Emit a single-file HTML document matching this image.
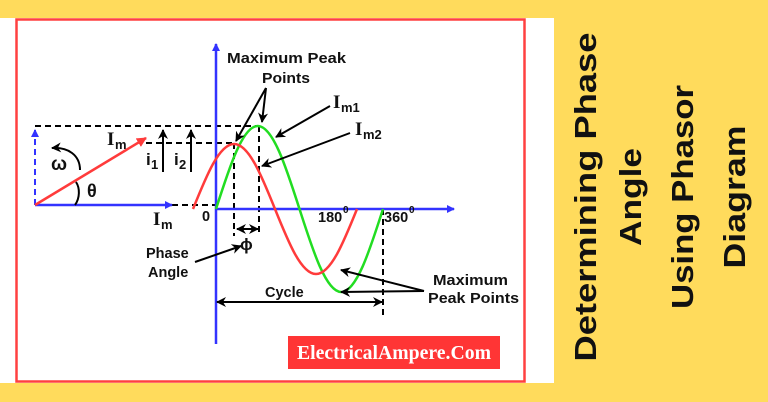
<!DOCTYPE html>
<html><head><meta charset="utf-8"><style>
html,body{margin:0;padding:0;background:#FFDB5C;width:768px;height:402px;overflow:hidden}
svg{display:block}
text{font-family:"Liberation Sans",sans-serif;font-weight:bold;fill:#111}
text.s{font-family:"Liberation Serif",serif}
</style></head><body>
<svg width="768" height="402" viewBox="0 0 768 402" xmlns="http://www.w3.org/2000/svg">
<defs>
<marker id="ab" markerWidth="8" markerHeight="8" refX="7" refY="4" orient="auto" markerUnits="userSpaceOnUse"><path d="M0,0 L8,4 L0,8 Z" fill="#3333ff"/></marker>
<marker id="ar" markerWidth="10" markerHeight="10" refX="9" refY="5" orient="auto" markerUnits="userSpaceOnUse"><path d="M0,0 L10,5 L0,10 Z" fill="#ff3b3b"/></marker>
<marker id="ak" markerWidth="10" markerHeight="10" refX="9" refY="5" orient="auto" markerUnits="userSpaceOnUse"><path d="M0,0 L10,5 L0,10 L3,5 Z" fill="#000"/></marker>
<marker id="aks" markerWidth="10" markerHeight="10" refX="1" refY="5" orient="auto" markerUnits="userSpaceOnUse"><path d="M10,0 L0,5 L10,10 L7,5 Z" fill="#000"/></marker>
</defs>
<rect x="0" y="18" width="554" height="365" fill="#fff"/>
<rect x="16.5" y="19.5" width="508" height="362" fill="none" stroke="#ff4040" stroke-width="2.5"/>

<g stroke="#000" stroke-width="2" stroke-dasharray="6,4" fill="none">
<path d="M35,126 H259"/><path d="M146,143 H234"/><path d="M172,205 H216"/>
<path d="M234,143 V236"/><path d="M259,126 V236"/><path d="M383,209 V318"/>
</g>
<path d="M216,344 V44" stroke="#3333ff" stroke-width="2.5" marker-end="url(#ab)"/>
<path d="M216,209 H454" stroke="#3333ff" stroke-width="2.5" marker-end="url(#ab)"/>
<path d="M35,205 H172" stroke="#3333ff" stroke-width="2.5" marker-end="url(#ab)"/>
<path d="M35,205 V130" stroke="#3333ff" stroke-width="2" stroke-dasharray="6,4" marker-end="url(#ab)"/>
<path d="M35,205 L146,138" stroke="#ff3b3b" stroke-width="2.5" marker-end="url(#ar)"/>

<path d="M216,209 C229.6,166.5 242.7,126 257.75,126 C272.8,126 285.9,166.5 299.5,209 C313.1,251.5 326.2,292 341.25,292 C356.3,292 369.4,251.5 383,209" fill="none" stroke="#22dd22" stroke-width="2.5"/>
<path d="M193,209 C206.4,175.7 219.2,144 234,144 C248.8,144 261.6,175.7 275,209 C288.4,242.3 301.2,274 316,274 C330.8,274 343.6,242.3 357,209" fill="none" stroke="#ff3b3b" stroke-width="2.5"/>

<g stroke="#000" stroke-width="2" fill="none">
<path d="M163,172 V130" marker-end="url(#ak)"/>
<path d="M191,172 V130" marker-end="url(#ak)"/>
<path d="M80,170 C80,155 68,147 52,148" marker-end="url(#ak)"/>
<path d="M75,205 C80,198 80,188 76,182"/>
<path d="M266,88 L236,141" marker-end="url(#ak)"/>
<path d="M266,88 L262,122" marker-end="url(#ak)"/>
<path d="M330,106 L276,137" marker-end="url(#ak)"/>
<path d="M350,133 L262,166" marker-end="url(#ak)"/>
<path d="M237,229 H258" marker-end="url(#ak)" marker-start="url(#aks)"/>
<path d="M195,262 L241,246" marker-end="url(#ak)"/>
<path d="M217,302 H382" marker-end="url(#ak)" marker-start="url(#aks)"/>
<path d="M424,291 L341,270" marker-end="url(#ak)"/>
<path d="M424,291 L341,292" marker-end="url(#ak)"/>
</g>

<g font-size="14.5">
<text x="227" y="63" textLength="119" lengthAdjust="spacingAndGlyphs">Maximum Peak</text>
<text x="262" y="83" textLength="48" lengthAdjust="spacingAndGlyphs">Points</text>
<text class="s" x="333" y="108" font-size="19">I</text><text x="341" y="112" font-size="13">m1</text>
<text class="s" x="355" y="135" font-size="19">I</text><text x="363" y="139" font-size="13">m2</text>
<text class="s" x="107" y="145" font-size="19">I</text><text x="115" y="149" font-size="13">m</text>
<text x="146" y="165" font-size="17">i</text><text x="151" y="169" font-size="13">1</text>
<text x="174" y="165" font-size="17">i</text><text x="179" y="169" font-size="13">2</text>
<text x="51" y="170" font-size="19">ω</text>
<text x="87" y="197" font-size="18">θ</text>
<text class="s" x="153" y="225" font-size="19">I</text><text x="161" y="229" font-size="13">m</text>
<text x="202" y="221">0</text>
<text x="318" y="222">180</text><text x="343" y="213" font-size="10">0</text>
<text x="384" y="222">360</text><text x="409" y="213" font-size="10">0</text>
<text x="240" y="250" font-size="17" font-weight="normal">ϕ</text>
<text x="146" y="258">Phase</text>
<text x="148" y="277">Angle</text>
<text x="265" y="297">Cycle</text>
<text x="433" y="285" textLength="75" lengthAdjust="spacingAndGlyphs">Maximum</text>
<text x="428" y="303" textLength="91" lengthAdjust="spacingAndGlyphs">Peak Points</text>
</g>

<rect x="288" y="336" width="212" height="33" fill="#ff3535"/>
<text class="s" x="394" y="359" text-anchor="middle" font-size="20" textLength="194" lengthAdjust="spacingAndGlyphs" style="fill:#fff">ElectricalAmpere.Com</text>

<g font-size="31" text-anchor="middle">
<text transform="translate(596,197) rotate(-90)" textLength="329" lengthAdjust="spacingAndGlyphs">Determining Phase</text>
<text transform="translate(641,197) rotate(-90)" textLength="98" lengthAdjust="spacingAndGlyphs">Angle</text>
<text transform="translate(693,197) rotate(-90)" textLength="224" lengthAdjust="spacingAndGlyphs">Using Phasor</text>
<text transform="translate(745,197) rotate(-90)" textLength="143" lengthAdjust="spacingAndGlyphs">Diagram</text>
</g>
</svg>
</body></html>
